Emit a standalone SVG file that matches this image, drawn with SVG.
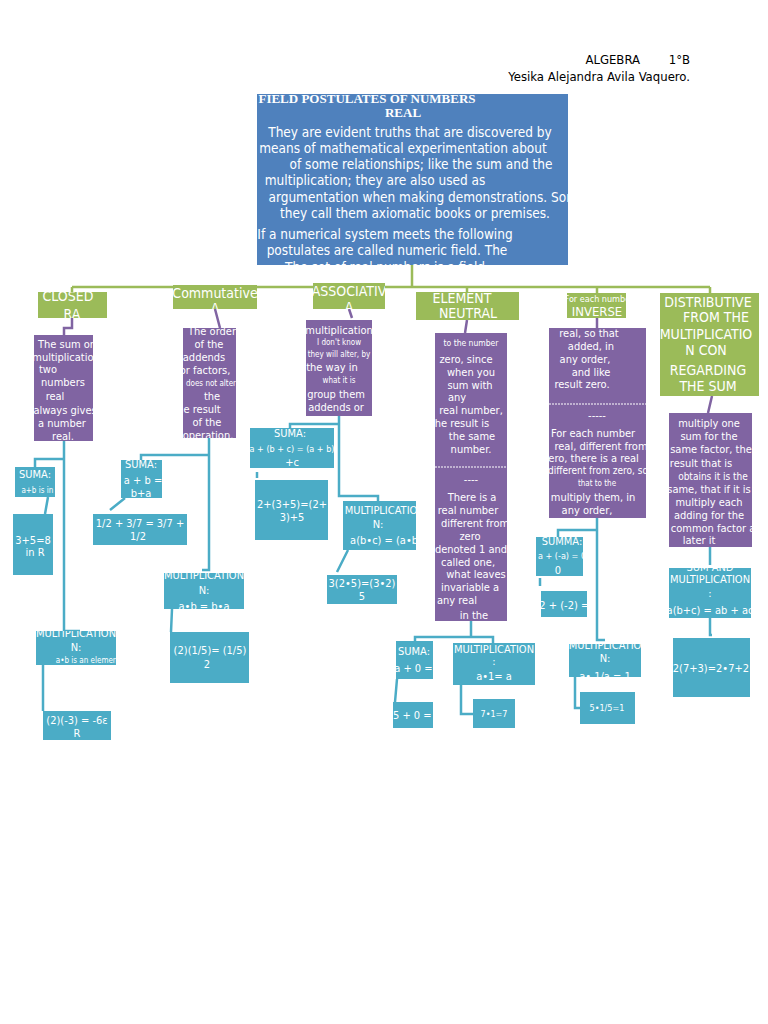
<svg xmlns="http://www.w3.org/2000/svg" width="768" height="1024" viewBox="0 0 768 1024">
<style>
text{font-family:"DejaVu Sans Condensed","DejaVu Sans",sans-serif;fill:#fff;text-anchor:middle}
.hd{fill:#000;text-anchor:end;font-size:13px}
.b{fill:#4f81bd}.g{fill:#9bbb59}.p{fill:#8064a2}.t{fill:#4bacc6}
.gl{stroke:#9bbb59;stroke-width:2.5;fill:none}
.tl{stroke:#4bacc6;stroke-width:2.5;fill:none}
.pl{stroke:#8064a2;stroke-width:2.5;fill:none}
.dash{stroke:#fff;stroke-width:1;stroke-dasharray:2 1}
</style>
<rect width="768" height="1024" fill="#fff"/>
<text class="hd" x="640" y="64">ALGEBRA</text>
<text class="hd" x="690" y="64">1°B</text>
<text class="hd" x="690" y="81">Yesika Alejandra Avila Vaquero.</text>

<g id="connectors">
<path class="gl" d="M412 265V287M72 287H710M72 287V292M215 287V285M349 287V283M467 287V292M597 287V293M710 287V293"/>
<path class="pl" d="M72 318V328H64V335M215 309L220 328M349 309L352 318M467 320L465 333M597 318V328M712 396L708 413"/>
<path class="tl" d="M64 441V631H80M64 459H35V467M48 497L45 514M43 665V711"/>
<path class="tl" d="M209 438V570H202M209 455H141V460M125 498L110 510M172 609L171 632"/>
<path class="tl" d="M339 416V496H378V501M339 424H290V428M257 472V478M348 550L337 572"/>
<path class="tl" d="M471 621V637H415V641M471 637H493V643M397 679L395 702M461 685V714H473"/>
<path class="tl" d="M597 518V640H605M597 530H558V537M540 578V586M575 677V708H580"/>
<path class="tl" d="M710 547V565M710 618V635H712"/>
</g>

<g id="main"><svg x="257" y="94" width="311" height="171"><rect class="b" width="311" height="171"/>
<text x="110" y="9" style="font-family:'Liberation Serif',serif;font-weight:bold" font-size="13">FIELD POSTULATES OF NUMBERS</text>
<text x="146" y="23" style="font-family:'Liberation Serif',serif;font-weight:bold" font-size="13">REAL</text>
<g font-size="13.5"><text x="153" y="43">They are evident truths that are discovered by</text>
<text x="146" y="59">means of mathematical experimentation about</text>
<text x="164" y="75">of some relationships; like the sum and the</text>
<text x="118" y="91">multiplication; they are also used as</text>
<text x="170" y="108">argumentation when making demonstrations. Some</text>
<text x="158" y="124">they call them axiomatic books or premises.</text>
<text x="128" y="145">If a numerical system meets the following</text>
<text x="130" y="161">postulates are called numeric field. The</text>
<text x="130" y="178">The set of real numbers is a field.</text></g></svg></g>

<g id="closed"><svg x="38" y="292" width="69" height="26"><rect class="g" width="69" height="26"/><text x="30" y="9" font-size="14">CLOSED</text><text x="34" y="27" font-size="14">RA</text></svg></g>
<g id="commutative"><svg x="173" y="285" width="84" height="24"><rect class="g" width="84" height="24"/><text x="42" y="13" font-size="14">Commutative</text><text x="42" y="28" font-size="14">A</text></svg></g>
<g id="associative"><svg x="313" y="283" width="72" height="26"><rect class="g" width="72" height="26"/><text x="36" y="13" font-size="14">ASSOCIATIV</text><text x="36" y="29" font-size="14">A</text></svg></g>
<g id="neutral"><svg x="416" y="292" width="103" height="28"><rect class="g" width="103" height="28"/><text x="46" y="11" font-size="14">ELEMENT</text><text x="52" y="26" font-size="14">NEUTRAL</text></svg></g>
<g id="inverse"><svg x="567" y="293" width="59" height="25"><rect class="g" width="59" height="25"/><text x="32" y="9" font-size="9">For each number</text><text x="30" y="23" font-size="13">INVERSE</text></svg></g>
<g id="distributive"><svg x="660" y="293" width="99" height="103"><rect class="g" width="99" height="103"/>
<g font-size="14"><text x="48" y="14">DISTRIBUTIVE</text><text x="56" y="29">FROM THE</text><text x="46" y="46">MULTIPLICATIO</text><text x="46" y="62">N CON</text><text x="48" y="82">REGARDING</text><text x="48" y="98">THE SUM</text></g></svg></g>

<g id="p-closed"><svg x="34" y="335" width="59" height="106"><rect class="p" width="59" height="106"/>
<g font-size="11"><text x="32" y="13">The sum or</text><text x="32" y="26">multiplication</text><text x="14" y="38">two</text><text x="29" y="51">numbers</text><text x="21" y="65">real</text><text x="31" y="79">always gives</text><text x="28" y="92">a number</text><text x="29" y="105">real.</text></g></svg></g>
<g id="p-comm"><svg x="183" y="328" width="53" height="110"><rect class="p" width="53" height="110"/>
<g font-size="11"><text x="29" y="7">The order</text><text x="26" y="20">of the</text><text x="21" y="33">addends</text><text x="22" y="46">or factors,</text><text x="28" y="58" font-size="8">does not alter</text><text x="29" y="72">the</text><text x="14" y="85">the result</text><text x="24" y="98">of the</text><text x="25" y="111">operation.</text></g></svg></g>
<g id="p-assoc"><svg x="306" y="320" width="66" height="96"><rect class="p" width="66" height="96"/>
<g font-size="11"><text x="33" y="14">multiplication</text><text x="33" y="25" font-size="8">I don't know</text><text x="33" y="37" font-size="8">they will alter, by</text><text x="26" y="51">the way in</text><text x="33" y="63" font-size="8">what it is</text><text x="30" y="78">group them</text><text x="30" y="91">addends or</text><text x="30" y="104">factors</text></g></svg></g>
<g id="p-neutral"><svg x="435" y="333" width="72" height="288"><rect class="p" width="72" height="288"/>
<line class="dash" x1="0" y1="134" x2="72" y2="134"/>
<g font-size="11"><text x="36" y="0">and name</text><text x="36" y="13" font-size="8.5">to the number</text><text x="31" y="30">zero, since</text><text x="36" y="43">when you</text><text x="35" y="56">sum with</text><text x="22" y="68">any</text><text x="36" y="81">real number,</text><text x="25" y="94">the result is</text><text x="37" y="107">the same</text><text x="36" y="120">number.</text>
<text x="36" y="150">----</text><text x="37" y="168">There is a</text><text x="33" y="181">real number</text><text x="40" y="194">different from</text><text x="35" y="207">zero</text><text x="36" y="220">denoted 1 and</text><text x="33" y="233">called one,</text><text x="41" y="245">what leaves</text><text x="35" y="258">invariable a</text><text x="22" y="271">any real</text><text x="39" y="286">in the</text></g></svg></g>
<g id="p-inverse"><svg x="549" y="328" width="97" height="190"><rect class="p" width="97" height="190"/>
<line class="dash" x1="0" y1="76" x2="97" y2="76"/>
<g font-size="11"><text x="40" y="9">real, so that</text><text x="42" y="22">added, in</text><text x="36" y="35">any order,</text><text x="42" y="48">and like</text><text x="33" y="60">result zero.</text>
<text x="48" y="91">-----</text><text x="44" y="109">For each number</text><text x="52" y="122">real, different from</text><text x="42" y="134">zero, there is a real</text><text x="49" y="146" font-size="10">different from zero, so</text><text x="48" y="158" font-size="8">that to the</text><text x="44" y="173">multiply them, in</text><text x="38" y="186">any order,</text></g></svg></g>
<g id="p-distrib"><svg x="669" y="413" width="83" height="134"><rect class="p" width="83" height="134"/>
<g font-size="11"><text x="40" y="0">When we</text><text x="40" y="14">multiply one</text><text x="40" y="27">sum for the</text><text x="42" y="40">same factor, the</text><text x="32" y="54">result that is</text><text x="44" y="67" font-size="10">obtains it is the</text><text x="40" y="80">same, that if it is</text><text x="40" y="93">multiply each</text><text x="40" y="106">adding for the</text><text x="44" y="119">common factor a</text><text x="30" y="131">later  it</text></g></svg></g>

<g font-size="11">
<g id="t1"><svg x="15" y="467" width="40" height="30"><rect class="t" width="40" height="30"/><text x="20" y="11">SUMA:</text><text x="26" y="26" font-size="8">a+b is in R</text></svg></g>
<g id="t2"><svg x="13" y="514" width="40" height="61"><rect class="t" width="40" height="61"/><text x="20" y="30">3+5=8</text><text x="22" y="42">in R</text></svg></g>
<g id="t3"><svg x="36" y="631" width="80" height="34"><rect class="t" width="80" height="34"/><text x="40" y="6">MULTIPLICATION</text><text x="40" y="20">N:</text><text x="52" y="32" font-size="8">a•b is an element</text></svg></g>
<g id="t4"><svg x="43" y="711" width="68" height="29"><rect class="t" width="68" height="29"/><text x="34" y="13">(2)(-3) = -6ε</text><text x="34" y="26">R</text></svg></g>
<g id="t5"><svg x="121" y="460" width="41" height="38"><rect class="t" width="41" height="38"/><text x="20" y="8">SUMA:</text><text x="22" y="24">a + b =</text><text x="20" y="37">b+a</text></svg></g>
<g id="t6"><svg x="93" y="514" width="94" height="31"><rect class="t" width="94" height="31"/><text x="47" y="13">1/2 + 3/7 = 3/7 +</text><text x="45" y="26">1/2</text></svg></g>
<g id="t7"><svg x="164" y="573" width="80" height="36"><rect class="t" width="80" height="36"/><text x="40" y="6">MULTIPLICATION</text><text x="40" y="21">N:</text><text x="40" y="37">a•b = b•a</text></svg></g>
<g id="t8"><svg x="170" y="632" width="79" height="51"><rect class="t" width="79" height="51"/><text x="40" y="22">(2)(1/5)= (1/5)</text><text x="37" y="36">2</text></svg></g>
<g id="t9"><svg x="250" y="428" width="84" height="40"><rect class="t" width="84" height="40"/><text x="40" y="9">SUMA:</text><text x="42" y="24" font-size="9">a + (b + c) = (a + b)</text><text x="42" y="38">+c</text></svg></g>
<g id="t10"><svg x="255" y="480" width="73" height="60"><rect class="t" width="73" height="60"/><text x="37" y="28">2+(3+5)=(2+</text><text x="37" y="41">3)+5</text></svg></g>
<g id="t11"><svg x="343" y="501" width="73" height="49"><rect class="t" width="73" height="49"/><text x="38" y="13">MULTIPLICATIO</text><text x="35" y="27">N:</text><text x="43" y="43">a(b•c) = (a•b)</text></svg></g>
<g id="t12"><svg x="327" y="575" width="70" height="29"><rect class="t" width="70" height="29"/><text x="35" y="12">3(2•5)=(3•2)</text><text x="35" y="25">5</text></svg></g>
<g id="t13"><svg x="396" y="641" width="37" height="38"><rect class="t" width="37" height="38"/><text x="18" y="14">SUMA:</text><text x="22" y="31">a + 0 = a</text></svg></g>
<g id="t14"><svg x="393" y="702" width="40" height="26"><rect class="t" width="40" height="26"/><text x="24" y="17">5 + 0 = 5</text></svg></g>
<g id="t15"><svg x="453" y="643" width="82" height="42"><rect class="t" width="82" height="42"/><text x="41" y="10">MULTIPLICATION</text><text x="41" y="22">:</text><text x="41" y="37">a•1= a</text></svg></g>
<g id="t16"><svg x="473" y="699" width="42" height="29"><rect class="t" width="42" height="29"/><text x="21" y="18" font-size="9">7•1=7</text></svg></g>
<g id="t17"><svg x="536" y="537" width="47" height="39"><rect class="t" width="47" height="39"/><text x="26" y="8">SUMMA:</text><text x="26" y="22" font-size="9">a + (-a) = 0</text><text x="22" y="37">0</text></svg></g>
<g id="t18"><svg x="541" y="591" width="46" height="26"><rect class="t" width="46" height="26"/><text x="28" y="18">2 + (-2) = 0</text></svg></g>
<g id="t19"><svg x="569" y="644" width="72" height="33"><rect class="t" width="72" height="33"/><text x="36" y="5">MULTIPLICATIO</text><text x="36" y="18">N:</text><text x="36" y="36">a• 1/a = 1</text></svg></g>
<g id="t20"><svg x="580" y="692" width="55" height="32"><rect class="t" width="55" height="32"/><text x="27" y="19" font-size="9">5•1/5=1</text></svg></g>
<g id="t21"><svg x="669" y="568" width="82" height="50"><rect class="t" width="82" height="50"/><text x="41" y="3">SUM AND</text><text x="41" y="15">MULTIPLICATION</text><text x="41" y="29">:</text><text x="41" y="46">a(b+c) = ab + ac</text></svg></g>
<g id="t22"><svg x="673" y="638" width="77" height="59"><rect class="t" width="77" height="59"/><text x="44" y="34">2(7+3)=2•7+2•3</text></svg></g>
</g>
</svg>
